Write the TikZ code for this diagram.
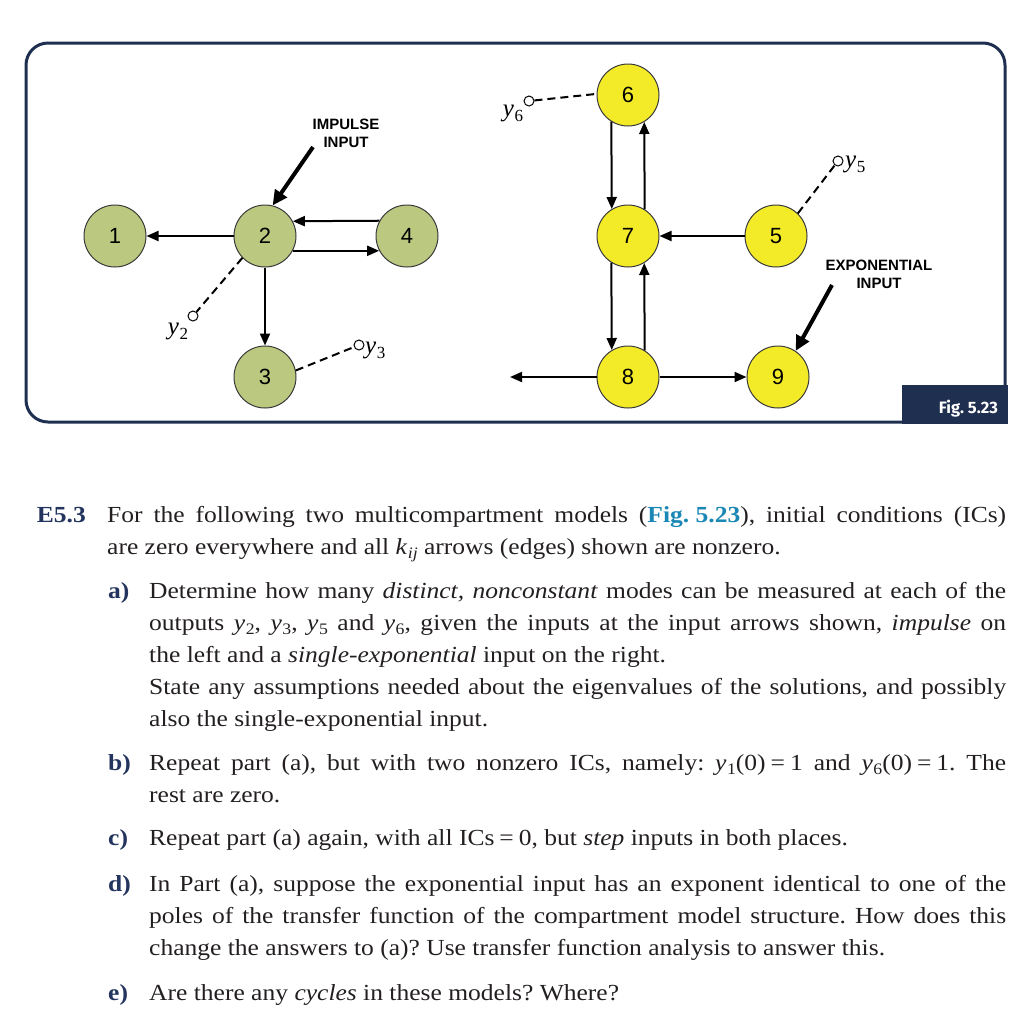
\documentclass[tikz,border=0pt]{standalone}
\usepackage{fontspec}
\setmainfont{Liberation Serif}[FakeStretch=1.11]
\setsansfont{Liberation Sans}
\newfontfamily\figfont{Fira Sans}
\newfontfamily\yfont{Liberation Serif}
\usetikzlibrary{arrows.meta}
\definecolor{frameblue}{HTML}{1F2F50}
\definecolor{labblue}{HTML}{23345E}
\definecolor{figcyan}{HTML}{1B87B5}
\definecolor{cgreen}{HTML}{BAC97F}
\definecolor{cyellow}{HTML}{F3EA28}
\definecolor{cborder}{HTML}{3A3A3A}
\definecolor{bodytext}{HTML}{231F20}
\frenchspacing
\newcommand{\ytext}[1]{\textit{y}\kern0.5pt\raisebox{-4pt}{\fontsize{16}{16}\selectfont #1}}
\newcommand{\kij}{\textit{k}\kern0.5pt\raisebox{-4pt}{\fontsize{16}{16}\selectfont\itshape ij}}
\newcommand{\ylab}[1]{{\yfont\itshape y}\kern0.5pt\raisebox{-5pt}{\yfont\fontsize{17}{17}\selectfont #1}}
\begin{document}
\begin{tikzpicture}[x=1pt,y=-1pt,
  comp/.style={circle,draw=cborder,line width=1pt,minimum size=62pt,inner sep=0pt,font=\sffamily\fontsize{22}{22}\selectfont},
  gcomp/.style={comp,fill=cgreen},
  ycomp/.style={comp,fill=cyellow},
  flow/.style={line width=2pt,-{Triangle[length=12pt,width=10pt]}},
  inarrow/.style={line width=4pt,-{Triangle[length=15pt,width=14pt]}},
  meas/.style={line width=2pt,dash pattern=on 8pt off 5pt},
  port/.style={circle,draw=black,fill=white,line width=1pt,minimum size=10pt,inner sep=0pt},
  ylabel/.style={inner sep=0pt,font=\fontsize{25}{25}\selectfont},
  inlab/.style={font=\sffamily\bfseries\fontsize{15}{18}\selectfont,align=center,inner sep=0pt},
  txt/.style={anchor=base west,inner sep=0pt,text=bodytext,font=\fontsize{23}{32}\selectfont},
  lbl/.style={inner sep=0pt,text=labblue,font=\fontsize{23}{32}\selectfont\bfseries},
]
\useasboundingbox (0,0) rectangle (1024,1013);
% frame
\draw[frameblue,line width=3pt,rounded corners=22pt] (26,43) rectangle (1005,422);
\fill[frameblue] (902,385) rectangle (1008,424);
\node[anchor=base east,inner sep=0pt,text=white,font=\figfont\bfseries\fontsize{16.5}{16.5}\selectfont] (figtag) at (998,413) {Fig. 5.23};

% left model
\node[gcomp] (n1) at (115,236) {1};
\node[gcomp] (n2) at (265,236) {2};
\node[gcomp] (n4) at (407,236) {4};
\node[gcomp] (n3) at (265,377) {3};
\draw[flow] (n2) -- (n1);
\draw[flow] (n4.151.1) -- (n2.28.9);
\draw[flow] (n2.-28.9) -- (n4.208.9);
\draw[flow] (n2) -- (n3);
\node[inlab] (implab) at (346,133) {IMPULSE\\INPUT};
\coordinate (imp) at (313,147);
\draw[inarrow] (imp) -- (n2.76);
\node[port] (p2) at (193,316) {};
\draw[meas] (n2.224) -- (p2);
\node[ylabel] (y2) at (178,331) {\ylab{2}};
\node[port] (p3) at (359,345) {};
\draw[meas] (n3.12) -- (p3);
\node[ylabel,anchor=west] (y3) at (365,350) {\ylab{3}};

% right model
\node[ycomp] (n6) at (628,95) {6};
\node[ycomp] (n7) at (628,236) {7};
\node[ycomp] (n8) at (628,377) {8};
\node[ycomp] (n5) at (776,236) {5};
\node[ycomp] (n9) at (778,377) {9};
\draw[flow] (n6.238.9) -- (n7.121.1);
\draw[flow] (n7.58.9) -- (n6.301.1);
\draw[flow] (n7.238.9) -- (n8.121.1);
\draw[flow] (n8.58.9) -- (n7.301.1);
\draw[flow] (n5) -- (n7);
\draw[flow] (n8) -- (n9);
\coordinate (out8) at (510,377);
\draw[flow] (n8) -- (out8);
\node[inlab] (explab) at (879,274) {EXPONENTIAL\\INPUT};
\coordinate (expin) at (832,285);
\draw[inarrow] (expin) -- (n9.56);
\node[port] (p6) at (529,101) {};
\draw[meas] (p6) -- (n6.178);
\node[ylabel] (y6) at (513,113) {\ylab{6}};
\node[port] (p5) at (838,161) {};
\draw[meas] (n5.46) -- (p5);
\node[ylabel,anchor=west] (y5) at (845,164) {\ylab{5}};

% text
\node[lbl,anchor=base east] (e53) at (86,522) {E5.3};
\node[txt] (l1) at (107,522) {\makebox[899pt][s]{For the following two multicompartment models (\textbf{\textcolor{figcyan}{\mbox{Fig. 5.23}}}), initial conditions (ICs)}};
\node[txt] (l2) at (107,554) {are zero everywhere and all \kij{} arrows (edges) shown are nonzero.};

\node[lbl,anchor=base west] (la) at (108,598) {a)};
\node[txt] (la1) at (149,598) {\makebox[857pt][s]{Determine how many \textit{distinct, nonconstant} modes can be measured at each of the}};
\node[txt] (la2) at (149,630) {\makebox[857pt][s]{outputs \ytext{2}, \ytext{3}, \ytext{5} and \ytext{6}, given the inputs at the input arrows shown, \textit{impulse} on}};
\node[txt] (la3) at (149,662) {the left and a \textit{single-exponential} input on the right.};
\node[txt] (la4) at (149,694) {\makebox[857pt][s]{State any assumptions needed about the eigenvalues of the solutions, and possibly}};
\node[txt] (la5) at (149,726) {also the single-exponential input.};

\node[lbl,anchor=base west] (lb) at (108,770) {b)};
\node[txt] (lb1) at (149,770) {\makebox[857pt][s]{Repeat part (a), but with two nonzero ICs, namely: \ytext{1}(0)\kern5pt=\kern5pt1 and \ytext{6}(0)\kern5pt=\kern5pt1. The}};
\node[txt] (lb2) at (149,802) {rest are zero.};

\node[lbl,anchor=base west] (lc) at (108,845) {c)};
\node[txt] (lc1) at (149,845) {Repeat part (a) again, with all ICs\kern5pt=\kern5pt0, but \textit{step} inputs in both places.};

\node[lbl,anchor=base west] (ld) at (108,891) {d)};
\node[txt] (ld1) at (149,891) {\makebox[857pt][s]{In Part (a), suppose the exponential input has an exponent identical to one of the}};
\node[txt] (ld2) at (149,923) {\makebox[857pt][s]{poles of the transfer function of the compartment model structure. How does this}};
\node[txt] (ld3) at (149,955) {change the answers to (a)? Use transfer function analysis to answer this.};

\node[lbl,anchor=base west] (le) at (108,1000) {e)};
\node[txt] (le1) at (149,1000) {Are there any \textit{cycles} in these models? Where?};
\end{tikzpicture}
\end{document}
